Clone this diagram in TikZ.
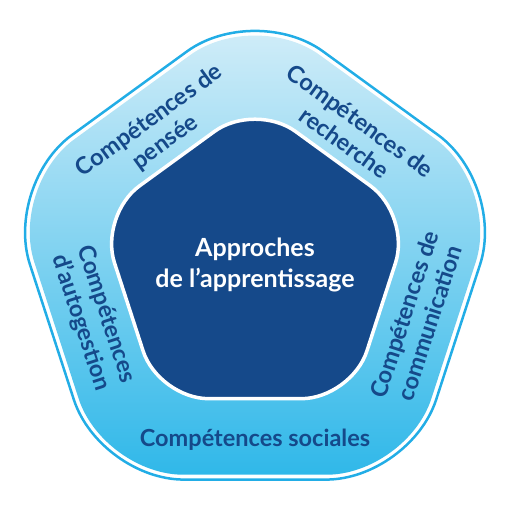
\documentclass[tikz,border=0pt]{standalone}
\usepackage{fontspec}
\setmainfont{Lato}
\usetikzlibrary{calc}
\definecolor{navy}{HTML}{15498A}
\definecolor{ringtop}{HTML}{D8EFF9}
\definecolor{ringmid}{HTML}{A6DCF3}
\definecolor{ringbot}{HTML}{30B8E9}
\definecolor{rim}{HTML}{22ADE6}
\begin{document}
\begin{tikzpicture}[x=1pt,y=1pt,line join=round,
	skill/.style={text=navy,font=\bfseries\fontsize{23.5}{27}\selectfont,align=center,inner sep=0pt},
	core/.style={text=white,font=\bfseries\fontsize{25}{31}\selectfont,align=center,inner sep=0pt}]
	\useasboundingbox (0,0) rectangle (512,512);
	\def\Ro{264}
	\def\Rf{258}
	\def\Ri{164}
	\path (255,246) coordinate (O);
	\foreach \i in {1,...,5}{
		\path (O) ++(18+72*\i:\Ro) coordinate (A_\i)
		(O) ++(18+72*\i:\Rf) coordinate (B_\i)
		(O) ++(18+72*\i:\Ri) coordinate (C_\i);
	}
	\draw[rim,line width=2.5,rounded corners=84] (A_1)--(A_2)--(A_3)--(A_4)--(A_5)--cycle;
	\shade[top color=ringtop,middle color=ringmid,bottom color=ringbot,rounded corners=80]
	(B_1)--(B_2)--(B_3)--(B_4)--(B_5)--cycle;
	\draw[white,line width=3.5,fill=navy,rounded corners=50] (C_1)--(C_2)--(C_3)--(C_4)--(C_5)--cycle;
	\node[core] (centre) at ($(O)+(0,1)$) {Approches\\de l’apprentissage};
	\node[skill,rotate=36] (pensee) at ($(O)+(126:166)$) {Compétences de\\pensée};
	\node[skill,rotate=-36] (recherche) at ($(O)+(54:166)$) {Compétences de\\recherche};
	\node[skill,rotate=72] (communication) at ($(O)+(-18:170)$) {Compétences de\\communication};
	\node[skill,rotate=-72] (autogestion) at ($(O)+(198:170)$) {Compétences\\d’autogestion};
	\node[skill] (sociales) at ($(O)+(270:174)$) {Compétences sociales};
\end{tikzpicture}
\end{document}
